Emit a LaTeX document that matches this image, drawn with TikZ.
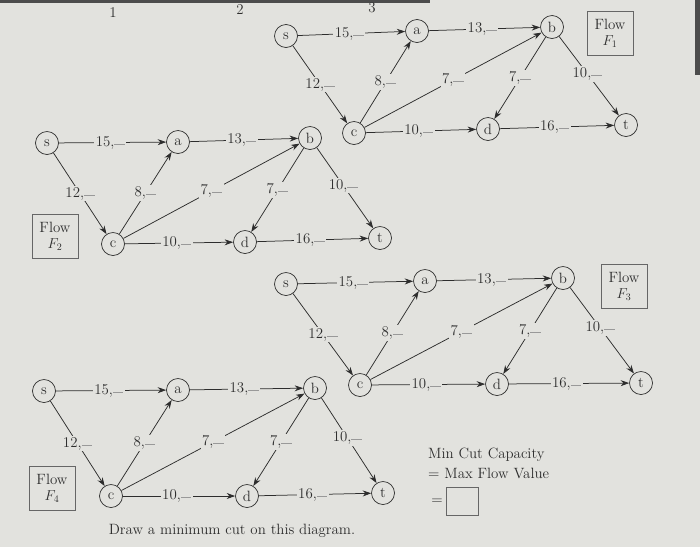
\documentclass[tikz,border=0pt]{standalone}
\usetikzlibrary{arrows.meta}
\definecolor{paper}{RGB}{226,226,222}
\definecolor{ink}{RGB}{45,45,45}
\newcommand\blankfill{\textcolor{black!40}{\rule[0.3ex]{0.7em}{0.45pt}}}
\tikzset{
  vtx/.style={circle,draw=ink,line width=0.7pt,minimum size=23pt,inner sep=0pt,text=ink,fill=paper},
  edge/.style={draw=ink,line width=0.75pt,-{Stealth[length=8.5pt,width=6pt]}},
  lbl/.style={fill=paper,inner sep=1.5pt,text=ink},
  flowbox/.style={draw=black!60,line width=0.6pt,align=center,text=ink,minimum width=46pt,minimum height=44pt,inner sep=1pt,font=\fontsize{14.9}{16}\selectfont},
  plain/.style={text=ink,inner sep=0pt},
}
\newcommand\flownet[7]{%
  \node[vtx] (#1s) at #2 {s};
  \node[vtx] (#1a) at #3 {a};
  \node[vtx] (#1b) at #4 {b};
  \node[vtx] (#1c) at #5 {c};
  \node[vtx] (#1d) at #6 {d};
  \node[vtx] (#1t) at #7 {t};
  \draw[edge] (#1s) -- node[lbl,pos=0.48]{15,\blankfill} (#1a);
  \draw[edge] (#1a) -- node[lbl,pos=0.48]{13,\blankfill} (#1b);
  \draw[edge] (#1s) -- node[lbl]{12,\blankfill} (#1c);
  \draw[edge] (#1c) -- node[lbl]{8,\blankfill} (#1a);
  \draw[edge] (#1c) -- node[lbl,pos=0.5]{7,\blankfill} (#1b);
  \draw[edge] (#1b) -- node[lbl]{7,\blankfill} (#1d);
  \draw[edge] (#1b) -- node[lbl,pos=0.47]{10,\blankfill} (#1t);
  \draw[edge] (#1c) -- node[lbl,pos=0.48]{10,\blankfill} (#1d);
  \draw[edge] (#1d) -- node[lbl,pos=0.48]{16,\blankfill} (#1t);
}
\begin{document}
\begin{tikzpicture}[x=1pt,y=-1pt,font=\fontsize{14.9}{17}\selectfont]
\useasboundingbox (0,0) rectangle (700,547);
\fill[paper] (0,0) rectangle (700,547);
% photo edges
\fill[black!70] (0,0) rectangle (430,2.5);
\fill[black!70] (695,0) rectangle (700,75);
% page numbers at top
\node[plain] (n1) at (113,13) {1};
\node[plain] (n2) at (240,10) {2};
\node[plain] (n3) at (372,8) {3};
% Flow F1
\flownet{A}{(286,36)}{(417,31)}{(552,27)}{(354,133)}{(488,129)}{(626,125)}
\node[flowbox] (boxA) at (610,33) {Flow\\$F_1$};
% Flow F2
\flownet{B}{(47,143)}{(178,142)}{(310,138)}{(113,244)}{(245,242)}{(380,238)}
\node[flowbox] (boxB) at (55,236) {Flow\\$F_2$};
% Flow F3
\flownet{C}{(286,284)}{(425,281)}{(563,278)}{(360,385)}{(497,384)}{(641,383)}
\node[flowbox] (boxC) at (624,286) {Flow\\$F_3$};
% Flow F4
\flownet{D}{(44,391)}{(178,390)}{(315,388)}{(111,496)}{(247,496)}{(383,493)}
\node[flowbox] (boxD) at (52,488) {Flow\\$F_4$};
\node[plain] (cap) at (232,531) {Draw a minimum cut on this diagram.};
% min cut text
\node[plain,anchor=west] (mc1) at (428,455) {Min Cut Capacity};
\node[plain,anchor=west] (mc2) at (428,473) {= Max Flow Value};
\node[plain] (eq) at (437,502) {=};
\node[draw=black!60,line width=0.6pt,minimum width=32pt,minimum height=28pt,inner sep=0pt] (ans) at (462,501) {};
\end{tikzpicture}
\end{document}
